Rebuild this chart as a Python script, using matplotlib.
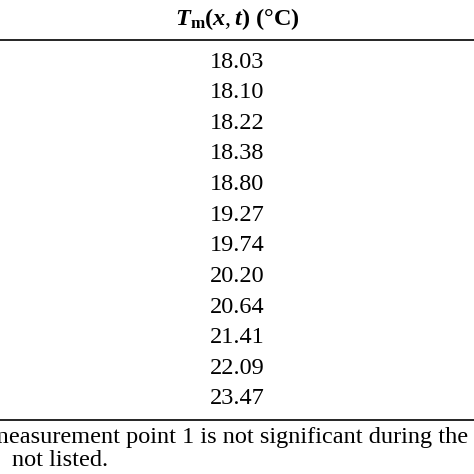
import matplotlib
matplotlib.use("Agg")
import matplotlib.pyplot as plt

values = ["18.03", "18.10", "18.22", "18.38", "18.80", "19.27",
          "19.74", "20.20", "20.64", "21.41", "22.09", "23.47"]
footer1 = "measurement point 1 is not significant during the"
footer2 = "not listed."

fam = "Liberation Serif"
plt.rcParams['mathtext.fontset'] = 'custom'
plt.rcParams['mathtext.rm'] = fam
plt.rcParams['mathtext.it'] = fam + ':italic'
plt.rcParams['mathtext.bf'] = fam + ':bold'
plt.rcParams['mathtext.bfit'] = fam + ':bold:italic'

fig = plt.figure(figsize=(4.74, 4.74), dpi=100)
ax = fig.add_axes([0, 0, 1, 1])
ax.set_xlim(0, 474)
ax.set_ylim(474, 0)
ax.axis("off")
fs = 17.5

ax.text(237, 19, r"$\mathbfit{T}_{\mathbf{m}}\mathbf{(}\mathbfit{x},\mathbfit{t}\mathbf{)}$ (°C)",
        ha="center", va="center", fontsize=fs, family=fam, fontweight="bold")
ax.axhline(40, color="black", lw=1.2)
y0, y1 = 62, 399
for i, v in enumerate(values):
    y = y0 + (y1 - y0) * i / (len(values) - 1)
    ax.text(237, y, v, ha="center", va="center", fontsize=fs, family=fam)
ax.axhline(420, color="black", lw=1.2)
ax.text(-10, 438, footer1, ha="left", va="center", fontsize=fs, family=fam)
ax.text(12, 461, footer2, ha="left", va="center", fontsize=fs, family=fam)
fig.savefig("out.png", dpi=100)
